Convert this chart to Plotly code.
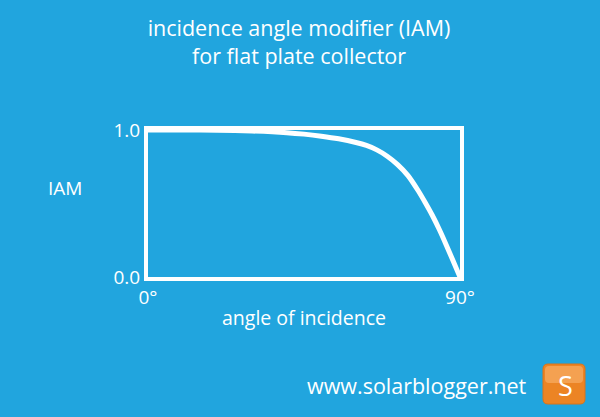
import plotly.graph_objects as go

angle = [0, 10, 20, 30, 40, 45, 50, 55, 60, 63, 66, 69, 72, 75, 78, 80, 82, 84, 86, 88, 90]
iam = [1.0, 1.0, 0.998, 0.993, 0.982, 0.972, 0.958, 0.94, 0.915, 0.895, 0.865, 0.822, 0.765, 0.69, 0.585, 0.505, 0.42, 0.325, 0.22, 0.11, 0.0]

x_ticks = [0, 90]
x_ticktext = ["0°", "90°"]
y_ticks = [0, 1]
y_ticktext = ["0.0", "1.0"]

BG = "#21a5de"
FONT = "Open Sans"

fig = go.Figure()
fig.add_trace(go.Scatter(x=angle, y=iam, mode="lines",
                         line=dict(color="white", width=5, shape="spline", smoothing=0.6),
                         cliponaxis=False, hoverinfo="skip"))

W, H = 600, 417
L, R, T, B = 148, 140, 130, 140
pw = W - L - R
ph = H - T - B


def px(x):
    return (x - L) / pw


def py(y):
    return (H - B - y) / ph


def rounded(x0, y0, x1, y1, r):
    pts = [
        f"M {px(x0 + r)} {py(y0)}",
        f"L {px(x1 - r)} {py(y0)}",
        f"Q {px(x1)} {py(y0)} {px(x1)} {py(y0 + r)}",
        f"L {px(x1)} {py(y1 - r)}",
        f"Q {px(x1)} {py(y1)} {px(x1 - r)} {py(y1)}",
        f"L {px(x0 + r)} {py(y1)}",
        f"Q {px(x0)} {py(y1)} {px(x0)} {py(y1 - r)}",
        f"L {px(x0)} {py(y0 + r)}",
        f"Q {px(x0)} {py(y0)} {px(x0 + r)} {py(y0)}",
        "Z",
    ]
    return " ".join(pts)


fig.add_shape(type="path", xref="paper", yref="paper", path=rounded(543, 364, 585, 404, 5),
              fillcolor="#ec8424", line=dict(color="#d9741a", width=1), layer="above")
fig.add_shape(type="path", xref="paper", yref="paper", path=rounded(545, 366, 583, 383, 4),
              fillcolor="#f6a95c", line=dict(width=0), layer="above", opacity=0.8)

fig.add_annotation(xref="paper", yref="paper", x=px(565), y=py(385), text="S", showarrow=False,
                   font=dict(family=FONT, size=27, color="white"), xanchor="center", yanchor="middle")
fig.add_annotation(xref="paper", yref="paper", x=px(529), y=py(385), text="www.solarblogger.net", showarrow=False,
                   font=dict(family=FONT, size=21.5, color="white"), xanchor="right", yanchor="middle")
fig.add_annotation(xref="paper", yref="paper", x=px(65), y=py(188), text="IAM", showarrow=False,
                   font=dict(family=FONT, size=19, color="white"), xanchor="center", yanchor="middle")
fig.add_annotation(xref="paper", yref="paper", x=px(299), y=py(55), text="for flat plate collector", showarrow=False,
                   font=dict(family=FONT, size=21.5, color="white"), xanchor="center", yanchor="middle")

fig.update_layout(
    width=W, height=H,
    paper_bgcolor=BG, plot_bgcolor=BG,
    margin=dict(l=L, r=R, t=T, b=B),
    showlegend=False,
    title=dict(text="incidence angle modifier (IAM)", x=299 / W, xanchor="center",
               y=1 - 28.5 / H, yanchor="middle",
               font=dict(family=FONT, size=21.5, color="white")),
    xaxis=dict(range=[0, 90], tickvals=x_ticks, ticktext=x_ticktext, showgrid=False, zeroline=False,
               showline=True, mirror=True, linecolor="white", linewidth=4, ticks="",
               tickfont=dict(family=FONT, size=19, color="white"),
               title=dict(text="angle of incidence", font=dict(family=FONT, size=19.5, color="white"), standoff=4)),
    yaxis=dict(range=[0, 1], tickvals=y_ticks, ticktext=y_ticktext, showgrid=False, zeroline=False,
               showline=True, mirror=True, linecolor="white", linewidth=4, ticks="",
               tickfont=dict(family=FONT, size=19, color="white")),
)

fig.write_html("out.html", config={"displayModeBar": False},
               post_script="document.body.style.margin='0';document.body.style.overflow='hidden';")
